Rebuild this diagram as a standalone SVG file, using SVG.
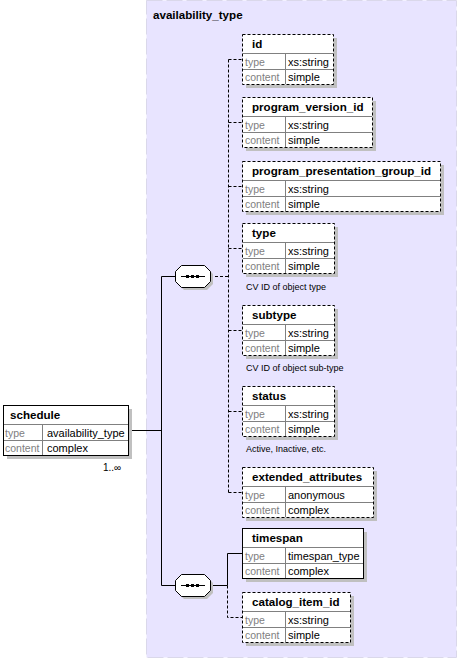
<svg xmlns="http://www.w3.org/2000/svg" width="458" height="659" viewBox="0 0 458 659">
<style>
text{font-family:"Liberation Sans",Arial,sans-serif;fill:#000}
.t{font-weight:bold;font-size:11.6px}
.l{font-size:10.5px;fill:#808080}
.v{font-size:11px}
.d{font-size:9px}
.m{font-size:10px}
.box{fill:#fff;stroke:#000;stroke-width:1}
.opt{stroke-dasharray:3,2}
.sh{fill:#c0c0c0}
.sep{stroke:#808080;stroke-width:1}
.c{fill:none;stroke:#000;stroke-width:1}
.cd{fill:none;stroke:#000;stroke-width:1;stroke-dasharray:3,2}
</style>
<rect x="146.5" y="0.5" width="310" height="657" fill="#e8e4ff" stroke="#dad8ea" stroke-dasharray="16,4"/>
<text class="t" x="153" y="19">availability_type</text>

<g id="connectors">
<path class="c" d="M128,430.5H161.5M161.5,276.5V585.5M161.5,276.5H175M161.5,585.5H175"/>
<path class="cd" d="M210,276.5H228.5M228.5,59.5V492.5M228.5,59.5H242M228.5,122.5H242M228.5,186.5H242M228.5,248.5H242M228.5,330.5H242M228.5,411.5H242M228.5,492.5H242"/>
<path class="c" d="M210,585.5H227.5V553.5H242"/>
<path class="cd" d="M227.5,585.5V617.5H242"/>
</g>

<g id="seq1">
<path class="sh" d="M184,268H207L213,274V284L207,290H184L178,284V274Z"/>
<path class="box" d="M181.5,265.5H204.5L210.5,271.5V281.5L204.5,287.5H181.5L175.5,281.5V271.5Z"/>
<path class="c" d="M181,276.5H205"/>
<rect x="186" y="275" width="3" height="3"/><rect x="191" y="275" width="3" height="3"/><rect x="196" y="275" width="3" height="3"/>
</g>
<g id="seq2">
<path class="sh" d="M184,577H207L213,583V593L207,599H184L178,593V583Z"/>
<path class="box" d="M181.5,574.5H204.5L210.5,580.5V590.5L204.5,596.5H181.5L175.5,590.5V580.5Z"/>
<path class="c" d="M181,585.5H205"/>
<rect x="186" y="584" width="3" height="3"/><rect x="191" y="584" width="3" height="3"/><rect x="196" y="584" width="3" height="3"/>
</g>

<g id="schedule">
<rect class="sh" x="7" y="409" width="125" height="50"/>
<rect class="box" x="3.5" y="405.5" width="125" height="50"/>
<path class="sep" d="M4,424.5H128M4,440.5H128M42.5,425V455"/>
<text class="t" x="10" y="419">schedule</text>
<text class="l" x="5" y="437">type</text><text class="v" x="47" y="437">availability_type</text>
<text class="l" x="5" y="452">content</text><text class="v" x="47" y="452">complex</text>
<text class="m" x="103" y="471">1..∞</text>
</g>

<g id="id">
<rect class="sh" x="246" y="38" width="91" height="50"/>
<rect class="box opt" x="242.5" y="34.5" width="91" height="50"/>
<path class="sep" d="M243,53.5H333M243,69.5H333M285.5,54V84"/>
<text class="t" x="252" y="48">id</text>
<text class="l" x="245" y="66">type</text><text class="v" x="288" y="66">xs:string</text>
<text class="l" x="245" y="81">content</text><text class="v" x="288" y="81">simple</text>
</g>

<g id="program_version_id">
<rect class="sh" x="246" y="101" width="130" height="50"/>
<rect class="box opt" x="242.5" y="97.5" width="130" height="50"/>
<path class="sep" d="M243,116.5H372M243,132.5H372M285.5,117V147"/>
<text class="t" x="252" y="111">program_version_id</text>
<text class="l" x="245" y="129">type</text><text class="v" x="288" y="129">xs:string</text>
<text class="l" x="245" y="144">content</text><text class="v" x="288" y="144">simple</text>
</g>

<g id="program_presentation_group_id">
<rect class="sh" x="246" y="165" width="198" height="50"/>
<rect class="box opt" x="242.5" y="161.5" width="198" height="50"/>
<path class="sep" d="M243,180.5H440M243,196.5H440M285.5,181V211"/>
<text class="t" x="252" y="175">program_presentation_group_id</text>
<text class="l" x="245" y="193">type</text><text class="v" x="288" y="193">xs:string</text>
<text class="l" x="245" y="208">content</text><text class="v" x="288" y="208">simple</text>
</g>

<g id="type">
<rect class="sh" x="246" y="227" width="92" height="50"/>
<rect class="box opt" x="242.5" y="223.5" width="92" height="50"/>
<path class="sep" d="M243,242.5H334M243,258.5H334M285.5,243V273"/>
<text class="t" x="252" y="237">type</text>
<text class="l" x="245" y="255">type</text><text class="v" x="288" y="255">xs:string</text>
<text class="l" x="245" y="270">content</text><text class="v" x="288" y="270">simple</text>
<text class="d" x="246" y="290">CV ID of object type</text>
</g>

<g id="subtype">
<rect class="sh" x="246" y="309" width="92" height="50"/>
<rect class="box opt" x="242.5" y="305.5" width="92" height="50"/>
<path class="sep" d="M243,324.5H334M243,340.5H334M285.5,325V355"/>
<text class="t" x="252" y="319">subtype</text>
<text class="l" x="245" y="337">type</text><text class="v" x="288" y="337">xs:string</text>
<text class="l" x="245" y="352">content</text><text class="v" x="288" y="352">simple</text>
<text class="d" x="246" y="371">CV ID of object sub-type</text>
</g>

<g id="status">
<rect class="sh" x="246" y="390" width="92" height="50"/>
<rect class="box opt" x="242.5" y="386.5" width="92" height="50"/>
<path class="sep" d="M243,405.5H334M243,421.5H334M285.5,406V436"/>
<text class="t" x="252" y="400">status</text>
<text class="l" x="245" y="418">type</text><text class="v" x="288" y="418">xs:string</text>
<text class="l" x="245" y="433">content</text><text class="v" x="288" y="433">simple</text>
<text class="d" x="246" y="452">Active, Inactive, etc.</text>
</g>

<g id="extended_attributes">
<rect class="sh" x="246" y="471" width="131" height="50"/>
<rect class="box opt" x="242.5" y="467.5" width="131" height="50"/>
<path class="sep" d="M243,486.5H373M243,502.5H373M285.5,487V517"/>
<text class="t" x="252" y="481">extended_attributes</text>
<text class="l" x="245" y="499">type</text><text class="v" x="288" y="499">anonymous</text>
<text class="l" x="245" y="514">content</text><text class="v" x="288" y="514">complex</text>
</g>

<g id="timespan">
<rect class="sh" x="246" y="532" width="121" height="50"/>
<rect class="box" x="242.5" y="528.5" width="121" height="50"/>
<path class="sep" d="M243,547.5H363M243,563.5H363M285.5,548V578"/>
<text class="t" x="252" y="542">timespan</text>
<text class="l" x="245" y="560">type</text><text class="v" x="288" y="560">timespan_type</text>
<text class="l" x="245" y="575">content</text><text class="v" x="288" y="575">complex</text>
</g>

<g id="catalog_item_id">
<rect class="sh" x="246" y="596" width="108" height="50"/>
<rect class="box opt" x="242.5" y="592.5" width="108" height="50"/>
<path class="sep" d="M243,611.5H350M243,627.5H350M285.5,612V642"/>
<text class="t" x="252" y="606">catalog_item_id</text>
<text class="l" x="245" y="624">type</text><text class="v" x="288" y="624">xs:string</text>
<text class="l" x="245" y="639">content</text><text class="v" x="288" y="639">simple</text>
</g>
</svg>
